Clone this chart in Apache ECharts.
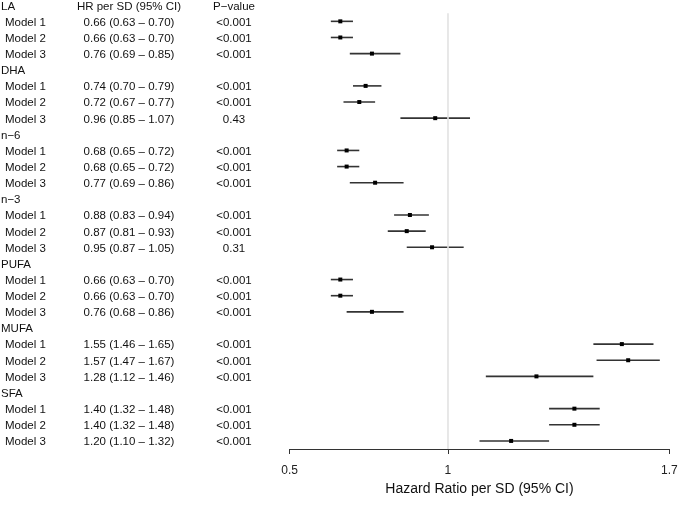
<!DOCTYPE html>
<html>
<head>
<meta charset="utf-8">
<script src="https://cdn.jsdelivr.net/npm/echarts@6.0.0/dist/echarts.min.js"></script>
<style>
html,body{margin:0;padding:0;background:#fff;}
#chart{width:685px;height:506px;}
</style>
</head>
<body>
<div id="chart"></div>
<script>
// data
var groups = ['LA', 'DHA', 'n\u22126', 'n\u22123', 'PUFA', 'MUFA', 'SFA'];
var models = ['Model 1', 'Model 2', 'Model 3'];
var hr    = [[0.66,0.66,0.76],[0.74,0.72,0.96],[0.68,0.68,0.77],[0.88,0.87,0.95],[0.66,0.66,0.76],[1.55,1.57,1.28],[1.40,1.40,1.20]];
var lower = [[0.63,0.63,0.69],[0.70,0.67,0.85],[0.65,0.65,0.69],[0.83,0.81,0.87],[0.63,0.63,0.68],[1.46,1.47,1.12],[1.32,1.32,1.10]];
var upper = [[0.70,0.70,0.85],[0.79,0.77,1.07],[0.72,0.72,0.86],[0.94,0.93,1.05],[0.70,0.70,0.86],[1.65,1.67,1.46],[1.48,1.48,1.32]];
var pval  = [['<0.001','<0.001','<0.001'],['<0.001','<0.001','0.43'],['<0.001','<0.001','<0.001'],['<0.001','<0.001','0.31'],['<0.001','<0.001','<0.001'],['<0.001','<0.001','<0.001'],['<0.001','<0.001','<0.001']];
var xTicks = [0.5, 1, 1.7];

var FONT = '"Liberation Sans", Helvetica, Arial, sans-serif';

// build rows: header row then 3 model rows per group
var ciData = [];
var textData = [];
for (var g = 0; g < groups.length; g++) {
    var r0 = g * 4;
    textData.push([r0, groups[g], g == 0 ? 'HR per SD (95% CI)' : '', g == 0 ? 'P\u2212value' : '', 1]);
    for (var m = 0; m < 3; m++) {
        var row = r0 + m + 1;
        ciData.push([lower[g][m], upper[g][m], hr[g][m], row]);
        var s = hr[g][m].toFixed(2) + ' (' + lower[g][m].toFixed(2) + ' \u2013 ' + upper[g][m].toFixed(2) + ')';
        textData.push([row, models[m], s, pval[g][m], 0]);
    }
}

var myChart = echarts.init(document.getElementById('chart'));
myChart.setOption({
    animation: false,
    grid: { left: 289.7, right: 15.7, top: 5.2, bottom: 57 },
    xAxis: {
        type: 'value',
        position: 'bottom',
        min: 0.5,
        max: 1.7,
        splitLine: { show: false },
        axisLine: { show: true, onZero: false, lineStyle: { color: '#333', width: 1 } },
        axisTick: { show: true, customValues: xTicks, length: 5, lineStyle: { color: '#333' } },
        axisLabel: { customValues: xTicks, color: '#222', fontSize: 12, fontFamily: FONT, margin: 16,
            formatter: function (v) { return String(v); } },
        name: 'Hazard Ratio per SD (95% CI)',
        nameLocation: 'middle',
        nameGap: 30,
        nameTextStyle: { color: '#111', fontSize: 14, fontFamily: FONT }
    },
    yAxis: {
        type: 'value',
        inverse: true,
        min: 0,
        max: 27.5,
        show: false
    },
    series: [
        {
            type: 'custom',
            clip: false,
            data: ciData,
            renderItem: function (params, api) {
                var row = api.value(3);
                var a = api.coord([api.value(0), row]);
                var b = api.coord([api.value(1), row]);
                var c = api.coord([api.value(2), row]);
                return {
                    type: 'group',
                    children: [
                        { type: 'line', shape: { x1: a[0], y1: a[1], x2: b[0], y2: b[1] },
                          style: { stroke: '#333', lineWidth: 1.6 } },
                        { type: 'rect', shape: { x: c[0] - 2, y: c[1] - 2, width: 4, height: 4 },
                          style: { fill: '#000' } }
                    ]
                };
            },
            markLine: {
                silent: true,
                symbol: 'none',
                label: { show: false },
                lineStyle: { color: '#e2e2e2', width: 1.6, type: 'solid' },
                data: [[{ coord: [1, 0.5] }, { coord: [1, 27.5] }]]
            },
            z: 3
        },
        {
            type: 'custom',
            clip: false,
            data: textData,
            renderItem: function (params, api) {
                var y = api.coord([0.5, api.value(0)])[1] + 1.2;
                var header = api.value(4) == 1;
                var font = '11.5px ' + FONT;
                var kids = [
                    { type: 'text', style: { x: header ? 1 : 5, y: y, text: textData[params.dataIndex][1],
                      font: font, fill: '#111', align: 'left', verticalAlign: 'middle' } },
                    { type: 'text', style: { x: 129, y: y, text: textData[params.dataIndex][2],
                      font: font, fill: '#111', align: 'center', verticalAlign: 'middle' } },
                    { type: 'text', style: { x: 234, y: y, text: textData[params.dataIndex][3],
                      font: font, fill: '#111', align: 'center', verticalAlign: 'middle' } }
                ];
                return { type: 'group', children: kids };
            }
        }
    ]
});
</script>
</body>
</html>
